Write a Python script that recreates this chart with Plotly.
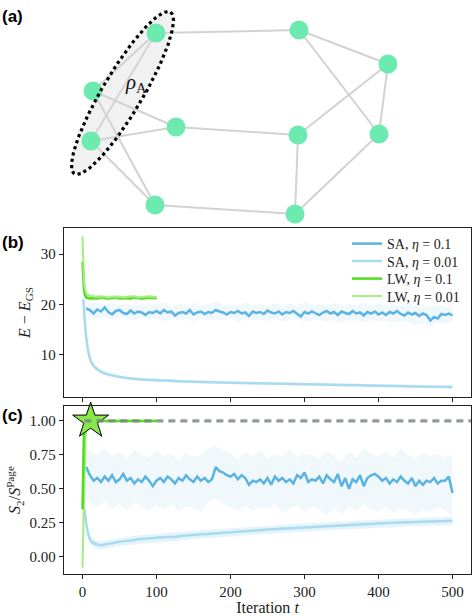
import plotly.graph_objects as go
import numpy as np

# ---------------- panel (a): graph ----------------
node_x = [156, 299, 388, 93, 176, 91, 298, 379, 155, 295]
node_y = [33, 30, 64, 91, 127, 141, 135, 134, 205, 214]
edges = [(0, 1), (1, 2), (1, 7), (2, 6), (2, 7), (6, 9), (7, 9), (4, 6),
         (8, 9), (5, 8), (5, 4), (3, 4), (5, 0), (3, 0), (3, 8)]
ellipse_center = (122.5, 93.0)
ellipse_axes = (94.0, 20.0)
ellipse_dir = (47.5, -80.0)
rho_label_pos = (136, 83)

# ---------------- panel (b) & (c) data ----------------
t_sa01 = list(range(5, 505, 5))
sa01_b = [19.2, 18.9, 18.2, 19.0, 18.6, 19.4, 18.5, 18.0, 18.7, 18.9,
          18.3, 18.1, 18.8, 18.2, 18.6, 18.4, 17.9, 18.5, 18.3, 18.7,
          18.2, 18.9, 18.4, 18.6, 17.8, 18.3, 18.5, 18.2, 18.9, 18.0,
          18.4, 18.6, 18.1, 18.5, 18.3, 18.9, 18.6, 18.4, 18.0, 18.5,
          18.3, 18.7, 18.2, 18.4, 17.7, 18.6, 18.3, 18.5, 18.1, 18.8,
          18.4, 18.2, 18.6, 18.0, 18.5, 18.3, 18.7, 18.1, 17.6, 18.5,
          18.2, 18.6, 18.3, 17.9, 18.4, 18.7, 18.2, 18.5, 17.9, 18.6,
          18.3, 18.1, 18.7, 18.2, 18.4, 17.8, 18.5, 18.2, 18.6, 18.0,
          18.4, 17.9, 18.5, 18.2, 18.7, 18.1, 17.8, 18.4, 18.0, 18.3,
          17.7, 18.2, 17.9, 16.8, 17.5, 17.2, 18.1, 17.9, 18.2, 17.8]
sa01_c = [0.66, 0.60, 0.56, 0.58, 0.55, 0.59, 0.56, 0.60, 0.55, 0.57,
          0.61, 0.56, 0.58, 0.54, 0.57, 0.55, 0.59, 0.56, 0.52, 0.56,
          0.58, 0.55, 0.59, 0.57, 0.54, 0.58, 0.56, 0.60, 0.57, 0.55,
          0.59, 0.56, 0.58, 0.55, 0.57, 0.66, 0.63, 0.62, 0.60, 0.59,
          0.61, 0.57, 0.60, 0.58, 0.53, 0.56, 0.55, 0.57, 0.54, 0.58,
          0.53, 0.59, 0.56, 0.58, 0.55, 0.57, 0.54, 0.60, 0.58, 0.62,
          0.55, 0.57, 0.56, 0.59, 0.54, 0.60, 0.57, 0.55, 0.61, 0.52,
          0.58, 0.50, 0.57, 0.55, 0.60, 0.52, 0.58, 0.60, 0.61, 0.59,
          0.56, 0.58, 0.54, 0.57, 0.55, 0.59, 0.56, 0.54, 0.58, 0.52,
          0.56, 0.53, 0.56, 0.55, 0.58, 0.54, 0.56, 0.56, 0.59, 0.47]

t_band = [5] + list(range(10, 510, 10))
sa01_b_hi = [20.6, 20.2, 20.4, 19.9, 20.3, 19.8, 20.1, 19.7, 20.2, 19.8,
             20.0, 20.5, 19.6, 20.1, 19.9, 20.3, 19.7, 20.2, 20.6, 19.8,
             20.0, 19.7, 20.4, 19.9, 20.1, 19.6, 20.3, 19.8, 20.2, 19.7,
             20.5, 19.9, 20.0, 19.8, 20.4, 19.6, 20.1, 19.9, 20.3, 19.7,
             20.2, 19.8, 20.0, 19.6, 20.3, 19.7, 19.9, 19.5, 19.9, 19.6, 19.3]
sa01_b_lo = [17.6, 17.4, 17.0, 17.5, 16.9, 17.3, 17.1, 16.8, 17.4, 17.0,
             17.2, 16.7, 17.3, 16.9, 17.1, 16.6, 17.2, 16.8, 17.0, 16.9,
             17.3, 16.5, 17.1, 16.8, 17.0, 16.7, 17.2, 16.6, 16.9, 17.1,
             16.5, 16.8, 17.0, 16.6, 16.9, 16.4, 17.0, 16.7, 16.5, 16.9,
             16.6, 16.8, 16.3, 16.7, 16.5, 15.8, 16.2, 15.5, 16.4, 16.2, 16.5]
sa01_c_hi = [0.82, 0.78, 0.75, 0.80, 0.74, 0.77, 0.72, 0.79, 0.75, 0.73,
             0.78, 0.74, 0.76, 0.71, 0.77, 0.73, 0.75, 0.80, 0.82, 0.78,
             0.76, 0.72, 0.77, 0.74, 0.78, 0.72, 0.76, 0.74, 0.79, 0.73,
             0.76, 0.75, 0.72, 0.78, 0.74, 0.70, 0.77, 0.73, 0.80, 0.76,
             0.74, 0.78, 0.73, 0.80, 0.75, 0.72, 0.77, 0.74, 0.76, 0.73, 0.75]
sa01_c_lo = [0.45, 0.40, 0.36, 0.41, 0.35, 0.39, 0.34, 0.40, 0.37, 0.33,
             0.38, 0.35, 0.39, 0.34, 0.37, 0.36, 0.33, 0.40, 0.43, 0.39,
             0.36, 0.34, 0.38, 0.33, 0.37, 0.35, 0.39, 0.32, 0.36, 0.38,
             0.33, 0.37, 0.35, 0.30, 0.36, 0.31, 0.37, 0.34, 0.39, 0.35,
             0.33, 0.37, 0.32, 0.36, 0.34, 0.31, 0.35, 0.33, 0.36, 0.34, 0.30]

t_sa001 = [1, 3, 5, 8, 11, 15, 20, 25, 30, 40, 50, 65, 80, 100, 130, 160,
           200, 250, 300, 350, 400, 450, 500]
sa001_b = [21.0, 17.0, 13.5, 10.5, 8.8, 7.8, 7.1, 6.6, 6.3, 5.9, 5.6, 5.3,
           5.1, 4.95, 4.75, 4.6, 4.45, 4.3, 4.15, 4.0, 3.85, 3.7, 3.6]
sa001_b_err = [1.5, 1.3, 1.0, 0.8, 0.6, 0.5, 0.45, 0.4, 0.4, 0.35, 0.35, 0.3,
               0.3, 0.3, 0.3, 0.3, 0.3, 0.3, 0.3, 0.3, 0.3, 0.3, 0.3]
sa001_c = [0.40, 0.33, 0.25, 0.16, 0.12, 0.10, 0.09, 0.085, 0.09, 0.10, 0.11,
           0.12, 0.13, 0.14, 0.15, 0.165, 0.18, 0.20, 0.215, 0.23, 0.245,
           0.255, 0.265]
sa001_c_err = [0.06, 0.05, 0.045, 0.04, 0.035, 0.03, 0.03, 0.03, 0.03, 0.03,
               0.03, 0.03, 0.03, 0.03, 0.03, 0.03, 0.03, 0.03, 0.03, 0.03,
               0.03, 0.03, 0.03]

t_lw = [0, 1, 2, 3, 4, 5, 7, 10, 15, 20, 25, 30, 35, 40, 45, 50, 55, 60, 65,
        70, 75, 80, 85, 90, 95, 100]
lw01_b = [28.5, 25.0, 23.0, 22.0, 21.6, 21.4, 21.3, 21.2, 21.3, 21.2, 21.4,
          21.3, 21.2, 21.3, 21.4, 21.2, 21.3, 21.3, 21.2, 21.4, 21.3, 21.2,
          21.3, 21.4, 21.3, 21.3]
lw001_b = [33.5, 28.0, 25.0, 23.5, 22.6, 22.2, 21.9, 21.7, 21.6, 21.5, 21.6,
           21.5, 21.4, 21.5, 21.6, 21.5, 21.4, 21.5, 21.5, 21.6, 21.4, 21.5,
           21.5, 21.6, 21.5, 21.5]
lw_b_err = [2.0, 1.6, 1.2, 0.9, 0.6, 0.5, 0.4, 0.35, 0.35, 0.3, 0.35, 0.3,
            0.3, 0.35, 0.3, 0.3, 0.35, 0.3, 0.3, 0.35, 0.3, 0.3, 0.35, 0.3,
            0.3, 0.3]
lw01_c = [0.35, 0.78, 0.93, 0.98, 0.99, 1.0, 1.0, 1.0, 1.0, 1.0, 1.0, 1.0,
          1.0, 1.0, 1.0, 1.0, 1.0, 1.0, 1.0, 1.0, 1.0, 1.0, 1.0, 1.0, 1.0, 1.0]
lw001_c = [-0.08, 0.22, 0.52, 0.74, 0.86, 0.93, 0.97, 0.99, 1.0, 1.0, 1.0,
           1.0, 1.0, 1.0, 1.0, 1.0, 1.0, 1.0, 1.0, 1.0, 1.0, 1.0, 1.0, 1.0,
           1.0, 1.0]
lw_c_err = [0.12, 0.15, 0.12, 0.08, 0.05, 0.03, 0.02, 0.015, 0.01, 0.01,
            0.01, 0.01, 0.01, 0.01, 0.01, 0.01, 0.01, 0.01, 0.01, 0.01,
            0.01, 0.01, 0.01, 0.01, 0.01, 0.01]

star_t, star_v = 11, 1.0
page_limit = 1.0

x_ticks = [0, 100, 200, 300, 400, 500]
b_ticks = [10, 20, 30]
c_ticks = [0.0, 0.25, 0.5, 0.75, 1.0]
c_ticktext = ["0.00", "0.25", "0.50", "0.75", "1.00"]
legend_names = ["SA, <i>η</i> = 0.1", "SA, <i>η</i> = 0.01",
                "LW, <i>η</i> = 0.1", "LW, <i>η</i> = 0.01"]

C_SA01 = "#5ab4e3"
C_SA001 = "#a8daf0"
C_LW01 = "#52dc22"
C_LW001 = "#a3ee7e"

SERIF = "Liberation Serif"
W, H = 474, 616

fig = go.Figure()

# ---- panel (a) ----
for a, b in edges:
    fig.add_trace(go.Scatter(x=[node_x[a], node_x[b]], y=[node_y[a], node_y[b]],
                             mode="lines", line=dict(color="#d2d2d2", width=2),
                             hoverinfo="skip", showlegend=False, xaxis="x", yaxis="y"))

th = np.linspace(0, 2 * np.pi, 200)
ang = np.arctan2(ellipse_dir[1], ellipse_dir[0])
ex = ellipse_center[0] + ellipse_axes[0] * np.cos(th) * np.cos(ang) - ellipse_axes[1] * np.sin(th) * np.sin(ang)
ey = ellipse_center[1] + ellipse_axes[0] * np.cos(th) * np.sin(ang) + ellipse_axes[1] * np.sin(th) * np.cos(ang)
fig.add_trace(go.Scatter(x=ex, y=ey, mode="lines", fill="toself",
                         fillcolor="rgba(215,215,215,0.35)", line=dict(width=0),
                         hoverinfo="skip", showlegend=False, xaxis="x", yaxis="y"))
fig.add_trace(go.Scatter(x=node_x, y=node_y, mode="markers",
                         marker=dict(size=19, color="#6deab0", line=dict(width=0)),
                         cliponaxis=False, hoverinfo="skip", showlegend=False,
                         xaxis="x", yaxis="y"))
fig.add_trace(go.Scatter(x=ex, y=ey, mode="lines",
                         line=dict(color="black", width=3.2, dash="dot"),
                         hoverinfo="skip", showlegend=False, xaxis="x", yaxis="y"))


def band(t, lo, hi, color, xa, ya):
    pts_lo = list(zip(t, lo))
    pts_hi = list(zip(t, hi))
    xs = [p[0] for p in pts_hi] + [p[0] for p in pts_lo[::-1]]
    ys = [p[1] for p in pts_hi] + [p[1] for p in pts_lo[::-1]]
    fig.add_trace(go.Scatter(x=xs, y=ys, mode="lines", fill="toself", fillcolor=color,
                             line=dict(width=0), hoverinfo="skip", showlegend=False,
                             xaxis=xa, yaxis=ya))


# ---- panel (b) ----
band(t_band, sa01_b_lo, sa01_b_hi, "rgba(90,180,227,0.09)", "x2", "y2")
band(t_sa001, [m - e for m, e in zip(sa001_b, sa001_b_err)],
     [m + e for m, e in zip(sa001_b, sa001_b_err)], "rgba(168,218,240,0.3)", "x2", "y2")
band(t_lw, [m - e for m, e in zip(lw01_b, lw_b_err)],
     [m + e for m, e in zip(lw001_b, lw_b_err)], "rgba(82,220,34,0.25)", "x2", "y2")

fig.add_trace(go.Scatter(x=t_sa01, y=sa01_b, mode="lines", name=legend_names[0],
                         legend="legend", line=dict(color=C_SA01, width=2.5),
                         xaxis="x2", yaxis="y2"))
fig.add_trace(go.Scatter(x=t_sa001, y=sa001_b, mode="lines", name=legend_names[1],
                         legend="legend2", line=dict(color=C_SA001, width=2.5, shape="spline"),
                         xaxis="x2", yaxis="y2"))
fig.add_trace(go.Scatter(x=t_lw, y=lw01_b, mode="lines", name=legend_names[2],
                         legend="legend3", line=dict(color=C_LW01, width=2.5),
                         xaxis="x2", yaxis="y2"))
fig.add_trace(go.Scatter(x=t_lw, y=lw001_b, mode="lines", name=legend_names[3],
                         legend="legend4", line=dict(color=C_LW001, width=2),
                         xaxis="x2", yaxis="y2"))

# ---- panel (c) ----
band(t_band, sa01_c_lo, sa01_c_hi, "rgba(90,180,227,0.09)", "x3", "y3")
band(t_sa001, [m - e for m, e in zip(sa001_c, sa001_c_err)],
     [m + e for m, e in zip(sa001_c, sa001_c_err)], "rgba(168,218,240,0.3)", "x3", "y3")
band(t_lw, [m - e for m, e in zip(lw001_c, lw_c_err)],
     [m + e for m, e in zip(lw01_c, lw_c_err)], "rgba(82,220,34,0.25)", "x3", "y3")

fig.add_trace(go.Scatter(x=t_sa01, y=sa01_c, mode="lines", showlegend=False,
                         line=dict(color=C_SA01, width=2.5), xaxis="x3", yaxis="y3"))
fig.add_trace(go.Scatter(x=t_sa001, y=sa001_c, mode="lines", showlegend=False,
                         line=dict(color=C_SA001, width=2.5, shape="spline"),
                         xaxis="x3", yaxis="y3"))
fig.add_trace(go.Scatter(x=t_lw, y=lw001_c, mode="lines", showlegend=False,
                         line=dict(color=C_LW001, width=2), xaxis="x3", yaxis="y3"))
fig.add_trace(go.Scatter(x=t_lw, y=lw01_c, mode="lines", showlegend=False,
                         line=dict(color=C_LW01, width=2.5), xaxis="x3", yaxis="y3"))

fig.add_shape(type="line", xref="x3 domain", yref="y3", x0=0.05, x1=1,
              y0=page_limit, y1=page_limit, layer="above",
              line=dict(color="rgba(125,135,130,0.85)", width=3.2, dash="7px,5px"))
fig.add_trace(go.Scatter(x=[star_t], y=[star_v], mode="markers", showlegend=False,
                         marker=dict(symbol="star", size=27, color="#86e84a",
                                     line=dict(color="black", width=1)),
                         cliponaxis=False, xaxis="x3", yaxis="y3"))

# ---- layout ----
xd = [64 / W, 471 / W]
common_axis = dict(showline=True, mirror=True, linecolor="#222", linewidth=1.3,
                   ticks="outside", ticklen=4, tickwidth=1, tickcolor="#222",
                   showgrid=False, zeroline=False,
                   tickfont=dict(family=SERIF, size=15, color="#222"))


def leg(ypx):
    return dict(x=347 / W, y=1 - ypx / H, xanchor="left", yanchor="middle",
                bgcolor="rgba(0,0,0,0)", font=dict(family=SERIF, size=14, color="#222"),
                itemwidth=30, borderwidth=0)


fig.update_layout(
    width=W, height=H, margin=dict(l=0, r=0, t=0, b=0),
    plot_bgcolor="white", paper_bgcolor="white",
    xaxis=dict(domain=[0, 1], range=[0, W], visible=False),
    yaxis=dict(domain=[1 - 225 / H, 1], range=[225, 0], visible=False),
    xaxis2=dict(domain=xd, range=[-25, 525], anchor="y2", tickvals=x_ticks,
                showticklabels=False, **common_axis),
    yaxis2=dict(domain=[(H - 397) / H, (H - 228) / H], range=[1.6, 35.2], anchor="x2",
                tickvals=b_ticks,
                title=dict(text="<i>E</i> − <i>E</i><sub>GS</sub>", standoff=6,
                           font=dict(family=SERIF, size=16, color="#222")),
                **common_axis),
    xaxis3=dict(domain=xd, range=[-25, 525], anchor="y3", tickvals=x_ticks,
                title=dict(text="Iteration <i>t</i>", standoff=4,
                           font=dict(family=SERIF, size=16, color="#222")),
                **common_axis),
    yaxis3=dict(domain=[(H - 574) / H, (H - 406) / H], range=[-0.127, 1.11], anchor="x3",
                tickvals=c_ticks, ticktext=c_ticktext,
                title=dict(text="<i>S</i><sub>2</sub>/<i>S</i><sup>Page</sup>", standoff=4,
                           font=dict(family=SERIF, size=16, color="#222")),
                **common_axis),
    legend=leg(244), legend2=leg(261.5), legend3=leg(279), legend4=leg(296.5),
    showlegend=True,
)

fig.add_annotation(x=rho_label_pos[0], y=rho_label_pos[1], xref="x", yref="y",
                   text="<i>ρ</i><sub>A</sub>", showarrow=False,
                   font=dict(family=SERIF, size=21, color="#111"))
for lab, ypx in [("(a)", 16), ("(b)", 243), ("(c)", 415)]:
    fig.add_annotation(x=0, y=1 - ypx / H, xref="paper", yref="paper", xanchor="left",
                       yanchor="middle", text=f"<b>{lab}</b>", showarrow=False,
                       font=dict(family="Liberation Sans", size=17, color="black"))

fig.write_html("out.html")
